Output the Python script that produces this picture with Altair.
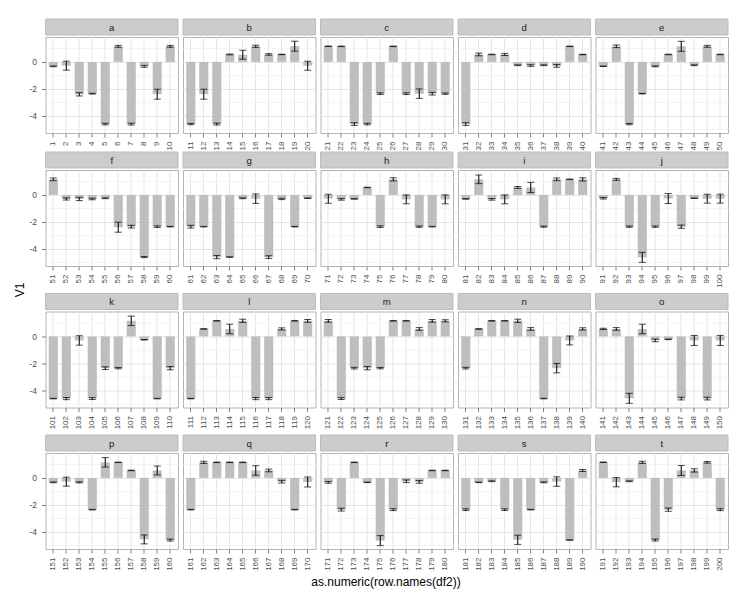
import altair as alt
import pandas as pd

groups = list("abcdefghijklmnopqrst")

means = [
    -0.33, -0.28, -2.40, -2.35, -4.60, 1.15, -4.60, -0.33, -2.39, 1.15,    # a
    -4.60, -2.39, -4.60, 0.55, 0.53, 1.15, 0.55, 0.55, 1.16, -0.28,       # b
    1.15, 1.15, -4.60, -4.60, -2.35, 1.15, -2.35, -2.35, -2.35, -2.35,    # c
    -4.60, 0.55, 0.55, 0.55, -0.25, -0.27, -0.25, -0.30, 1.15, 0.55,     # d
    -0.33, 1.15, -4.60, -2.35, -0.33, 0.55, 1.15, -0.25, 1.15, 0.55,     # e
    1.15, -0.30, -0.30, -0.30, -0.25, -2.39, -2.35, -4.60, -2.35, -2.35,  # f
    -2.35, -2.35, -4.60, -4.60, -0.25, -0.28, -4.60, -0.30, -2.35, -0.25, # g
    -0.28, -0.33, -0.30, 0.55, -2.35, 1.15, -0.33, -2.35, -2.35, -0.33,  # h
    -0.30, 1.15, -0.33, -0.33, 0.55, 0.55, -2.35, 1.15, 1.15, 1.15,      # i
    -0.25, 1.15, -2.35, -4.62, -2.35, -0.27, -2.35, -0.25, -0.28, -0.28, # j
    -4.60, -4.60, -0.30, -4.60, -2.35, -2.35, 1.15, -0.25, -4.60, -2.35, # k
    -4.60, 0.55, 1.15, 0.55, 1.15, -4.60, -4.60, 0.55, 1.15, 1.15,       # l
    1.15, -4.60, -2.35, -2.35, -2.35, 1.15, 1.15, 0.55, 1.15, 1.15,      # m
    -2.35, 0.55, 1.15, 1.15, 1.15, 0.55, -4.60, -2.35, -0.30, 0.55,      # n
    0.55, 0.55, -4.58, 0.55, -0.30, -0.22, -4.60, -0.30, -4.60, -0.30,   # o
    -0.33, -0.28, -0.33, -2.35, 1.15, 1.15, 0.55, -4.55, 0.55, -4.60,    # p
    -2.35, 1.15, 1.15, 1.15, 1.15, 0.55, 0.55, -0.28, -2.35, -0.30,      # q
    -0.33, -2.35, 1.15, -0.33, -4.64, -2.35, -0.25, -0.30, 0.55, 0.55,   # r
    -2.35, -0.33, -0.25, -2.35, -4.58, -2.35, -0.33, -0.27, -4.60, 0.55, # s
    1.15, -0.32, -0.25, 1.15, -4.60, -2.35, 0.55, 0.55, 1.15, -2.35,     # t
]

errs = [
    0.03, 0.33, 0.12, 0.03, 0.06, 0.07, 0.07, 0.07, 0.37, 0.07,  # a
    0.05, 0.37, 0.07, 0.03, 0.33, 0.08, 0.06, 0.02, 0.37, 0.33,  # b
    0.02, 0.02, 0.10, 0.06, 0.06, 0.02, 0.06, 0.35, 0.10, 0.05,  # c
    0.10, 0.10, 0.02, 0.08, 0.03, 0.06, 0.03, 0.10, 0.02, 0.02,  # d
    0.02, 0.10, 0.05, 0.02, 0.03, 0.02, 0.37, 0.03, 0.07, 0.02,  # e
    0.10, 0.08, 0.12, 0.06, 0.03, 0.37, 0.10, 0.04, 0.06, 0.02,  # f
    0.10, 0.02, 0.12, 0.02, 0.03, 0.35, 0.10, 0.05, 0.02, 0.02,  # g
    0.33, 0.06, 0.02, 0.02, 0.06, 0.12, 0.33, 0.05, 0.02, 0.33,  # h
    0.02, 0.32, 0.06, 0.33, 0.07, 0.38, 0.04, 0.10, 0.02, 0.12,  # i
    0.06, 0.07, 0.05, 0.37, 0.05, 0.37, 0.12, 0.02, 0.33, 0.33,  # j
    0.02, 0.08, 0.35, 0.07, 0.10, 0.05, 0.35, 0.02, 0.02, 0.12,  # k
    0.02, 0.02, 0.02, 0.35, 0.12, 0.08, 0.08, 0.08, 0.02, 0.10,  # l
    0.10, 0.07, 0.06, 0.12, 0.05, 0.02, 0.02, 0.10, 0.10, 0.08,  # m
    0.06, 0.02, 0.02, 0.02, 0.12, 0.10, 0.02, 0.35, 0.33, 0.08,  # n
    0.05, 0.10, 0.37, 0.35, 0.10, 0.02, 0.10, 0.37, 0.10, 0.37,  # o
    0.03, 0.33, 0.04, 0.02, 0.35, 0.02, 0.02, 0.33, 0.33, 0.07,  # p
    0.02, 0.08, 0.02, 0.02, 0.02, 0.35, 0.10, 0.10, 0.02, 0.37,  # q
    0.06, 0.10, 0.02, 0.02, 0.37, 0.07, 0.10, 0.10, 0.02, 0.02,  # r
    0.06, 0.02, 0.03, 0.06, 0.34, 0.02, 0.03, 0.35, 0.02, 0.07,  # s
    0.02, 0.34, 0.03, 0.08, 0.07, 0.12, 0.37, 0.12, 0.06, 0.07,  # t
]

x_title = "as.numeric(row.names(df2))"
y_title = "V1"
y_ticks = [-5, -4, -3, -2, -1, 0, 1]

idx = list(range(1, len(means) + 1))
df = pd.DataFrame({
    "idx": idx,
    "grp": [groups[(i - 1) // 10] for i in idx],
    "val": means,
    "err": errs,
})
df["lo"] = df["val"] - df["err"]
df["hi"] = df["val"] + df["err"]

FONT = "Liberation Sans"
W = 132.5
H = 96
SH = 16
YDOM = [-5.26, 1.84]
TXT = "#4D4D4D"
TICK = "#7F7F7F"
GRID = "#E5E5E5"
MINOR = "#F4F4F4"
BAR = "#BEBEBE"
BORDER = "#B3B3B3"
LBL = 8

even = "datum.value % 2 === 0"


def yaxis(left):
    return alt.Axis(
        values=y_ticks,
        title=None,
        domain=False,
        grid=True,
        gridColor={"condition": {"test": even, "value": GRID}, "value": MINOR},
        labels=left,
        labelExpr="datum.value % 2 === 0 ? '' + datum.value : ''",
        ticks=left,
        tickColor={"condition": {"test": even, "value": TICK}, "value": "transparent"},
        tickSize=4,
        labelFontSize=LBL + 0.5,
        labelColor=TXT,
        labelPadding=5,
        labelFont=FONT,
        minExtent=0,
    )


def panel(g, left):
    base = alt.Chart(df).transform_filter(alt.datum.grp == g)
    xenc = alt.X(
        "idx:O",
        title=None,
        scale=alt.Scale(paddingInner=0, paddingOuter=0.1),
        axis=alt.Axis(
            labelAngle=270,
            labelFontSize=LBL,
            labelColor=TXT,
            labelFont=FONT,
            labelPadding=4,
            labelOverlap=False,
            tickColor=TICK,
            tickSize=4,
            domain=False,
            grid=True,
            gridColor=GRID,
            bandPosition=0.5,
            minExtent=0,
        ),
    )
    ysc = alt.Scale(domain=YDOM, nice=False, zero=False)
    bars = base.mark_bar(color=BAR, width={"band": 0.7}).encode(
        x=xenc,
        y=alt.Y("val:Q", scale=ysc, axis=yaxis(left)),
        y2=alt.datum(0),
    )
    rule = base.mark_rule(color="black", strokeWidth=1).encode(
        x=xenc,
        y=alt.Y("lo:Q", scale=ysc, axis=yaxis(left)),
        y2="hi:Q",
    )
    cap_lo = base.mark_tick(color="black", size=7, thickness=1).encode(
        x=xenc, y=alt.Y("lo:Q", scale=ysc, axis=yaxis(left))
    )
    cap_hi = base.mark_tick(color="black", size=7, thickness=1).encode(
        x=xenc, y=alt.Y("hi:Q", scale=ysc, axis=yaxis(left))
    )
    return alt.layer(bars, rule, cap_lo, cap_hi).properties(
        width=W,
        height=H,
        view=alt.ViewBackground(stroke=BORDER, strokeWidth=1, fill="white"),
    )


def strip(g):
    sdf = pd.DataFrame({"lab": [g]})
    rect = alt.Chart(sdf).mark_rect(fill="#CCCCCC", stroke="#BDBDBD", strokeWidth=1).encode(
        x=alt.value(0), x2=alt.value(W), y=alt.value(0), y2=alt.value(SH)
    )
    txt = alt.Chart(sdf).mark_text(
        fontSize=9.6, color="#1A1A1A", font=FONT, baseline="middle", align="center"
    ).encode(x=alt.value(W / 2), y=alt.value(SH / 2 + 0.5), text="lab:N")
    return alt.layer(rect, txt).properties(
        width=W, height=SH, view=alt.ViewBackground(stroke="transparent")
    )


rows = []
for r in range(4):
    cells = []
    for c in range(5):
        g = groups[r * 5 + c]
        cells.append(alt.vconcat(strip(g), panel(g, c == 0), spacing=0))
    rows.append(alt.hconcat(*cells, spacing=2.5))
grid = alt.vconcat(rows[0], alt.vconcat(rows[1], rows[2], rows[3], spacing=4.5), spacing=0)

ytitle = alt.Chart(pd.DataFrame({"t": [y_title]})).mark_text(
    angle=270, fontSize=12, font=FONT, color="black", baseline="middle", align="center"
).encode(x=alt.value(11), y=alt.value(271), text="t:N").properties(
    width=14, height=500, view=alt.ViewBackground(stroke="transparent")
)

xtitle = alt.Chart(pd.DataFrame({"t": [x_title]})).mark_text(
    fontSize=12, font=FONT, color="black", baseline="middle", align="center"
).encode(x=alt.value(377), y=alt.value(8), text="t:N").properties(
    width=700, height=16, view=alt.ViewBackground(stroke="transparent")
)

chart = alt.vconcat(
    alt.hconcat(ytitle, grid, spacing=0.5),
    xtitle,
    spacing=2,
).properties(
    padding={"left": 0, "top": 10, "right": 0, "bottom": 0},
    background="white",
).configure_view(stroke="transparent").configure(font=FONT)

chart.save("out.html", embed_options={"renderer": "svg", "actions": False})
